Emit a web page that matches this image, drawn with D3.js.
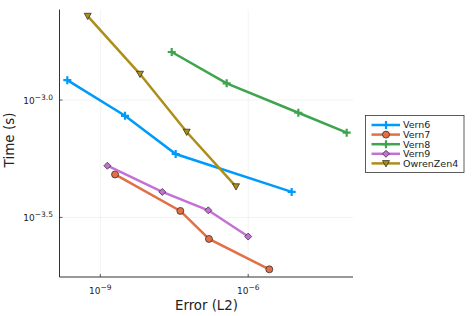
<!DOCTYPE html>
<html>
<head>
<meta charset="utf-8">
<script src="https://d3js.org/d3.v7.min.js"></script>
<style>
  body { margin: 0; background: #fff; }
  text { font-family: "DejaVu Sans", sans-serif; fill: #222; }
</style>
</head>
<body>
<script>
// series names and colours
var names = ['Vern6', 'Vern7', 'Vern8', 'Vern9', 'OwrenZen4'];
var colors = ['#009AFA', '#E26F46', '#3EA44E', '#C371D2', '#AC8E18'];
var shapes = ['cross', 'circle', 'cross', 'diamond', 'triangle'];

// error (L2) values per series
var errVern6 = [2.14e-10, 3.17e-9, 3.38e-8, 7.62e-6];
var errVern7 = [1.99e-9, 4.20e-8, 1.60e-7, 2.68e-6];
var errVern8 = [2.81e-8, 3.66e-7, 1.04e-5, 9.95e-5];
var errVern9 = [1.39e-9, 1.81e-8, 1.55e-7, 1.00e-6];
var errOwren = [5.55e-10, 6.38e-9, 5.66e-8, 5.66e-7];

// time (s) values per series
var timeVern6 = [1.216e-3, 8.57e-4, 5.89e-4, 4.06e-4];
var timeVern7 = [4.82e-4, 3.37e-4, 2.56e-4, 1.90e-4];
var timeVern8 = [1.603e-3, 1.178e-3, 8.83e-4, 7.26e-4];
var timeVern9 = [5.25e-4, 4.06e-4, 3.39e-4, 2.62e-4];
var timeOwren = [2.28e-3, 1.291e-3, 7.31e-4, 4.28e-4];

var xTicks = [1e-9, 1e-6];
var xTickExp = ['9', '6'];
var yTicks = [1.0e-3, 3.1623e-4];
var yTickExp = ['3.0', '3.5'];

var errs = [errVern6, errVern7, errVern8, errVern9, errOwren];
var times = [timeVern6, timeVern7, timeVern8, timeVern9, timeOwren];

var W = 474, H = 316;
var pL = 59.5, pR = 353, pT = 9.5, pB = 277;

var svg = d3.select('body').append('svg')
  .attr('width', W).attr('height', H);

var x = d3.scaleLog().domain([1.486e-10, 1.337e-4]).range([pL, pR]);
var y = d3.scaleLog().domain([1.762e-4, 2.432e-3]).range([pB, pT]);

// grid
svg.append('g').selectAll('line').data(xTicks).enter().append('line')
  .attr('x1', d => x(d)).attr('x2', d => x(d))
  .attr('y1', pT).attr('y2', pB)
  .attr('stroke', '#000').attr('stroke-opacity', 0.1).attr('stroke-width', 0.5);
svg.append('g').selectAll('line').data(yTicks).enter().append('line')
  .attr('x1', pL).attr('x2', pR)
  .attr('y1', d => y(d)).attr('y2', d => y(d))
  .attr('stroke', '#000').attr('stroke-opacity', 0.1).attr('stroke-width', 0.5);

// axes lines
svg.append('line').attr('x1', pL).attr('x2', pL).attr('y1', pT).attr('y2', pB)
  .attr('stroke', '#333').attr('stroke-width', 1);
svg.append('line').attr('x1', pL).attr('x2', pR).attr('y1', pB).attr('y2', pB)
  .attr('stroke', '#333').attr('stroke-width', 1);

// ticks
xTicks.forEach(function(t, i) {
  svg.append('line').attr('x1', x(t)).attr('x2', x(t)).attr('y1', pB).attr('y2', pB - 3)
    .attr('stroke', '#333').attr('stroke-width', 0.8);
  var tx = svg.append('text').attr('x', x(t)).attr('y', 294)
    .attr('text-anchor', 'middle').style('font-size', '9px');
  tx.append('tspan').text('10');
  tx.append('tspan').attr('dy', -4).style('font-size', '7.5px').text('\u2212' + xTickExp[i]);
});
yTicks.forEach(function(t, i) {
  svg.append('line').attr('x1', pL).attr('x2', pL + 3).attr('y1', y(t)).attr('y2', y(t))
    .attr('stroke', '#333').attr('stroke-width', 0.8);
  var tx = svg.append('text').attr('x', 53).attr('y', y(t) + 4)
    .attr('text-anchor', 'end').style('font-size', '9px');
  tx.append('tspan').text('10');
  tx.append('tspan').attr('dy', -4).style('font-size', '7.5px').text('\u2212' + yTickExp[i]);
});

// axis titles
svg.append('text').attr('x', 206.5).attr('y', 310)
  .attr('text-anchor', 'middle').style('font-size', '13.3px').text('Error (L2)');
svg.append('text').attr('transform', 'translate(14,140) rotate(-90)')
  .attr('text-anchor', 'middle').style('font-size', '13.5px').text('Time (s)');

function drawMarker(g, shape, color, cx, cy, s) {
  if (shape === 'circle') {
    g.append('circle').attr('cx', cx).attr('cy', cy).attr('r', s)
      .attr('fill', color).attr('stroke', '#222').attr('stroke-width', 0.7);
  } else if (shape === 'diamond') {
    g.append('path').attr('d', 'M' + cx + ',' + (cy - s) + 'L' + (cx + s) + ',' + cy + 'L' + cx + ',' + (cy + s) + 'L' + (cx - s) + ',' + cy + 'Z')
      .attr('fill', color).attr('stroke', '#222').attr('stroke-width', 0.7);
  } else if (shape === 'triangle') {
    g.append('path').attr('d', 'M' + (cx - s) + ',' + (cy - s * 0.8) + 'L' + (cx + s) + ',' + (cy - s * 0.8) + 'L' + cx + ',' + (cy + s) + 'Z')
      .attr('fill', color).attr('stroke', '#222').attr('stroke-width', 0.7);
  } else {
    g.append('path').attr('d', 'M' + (cx - s) + ',' + cy + 'H' + (cx + s) + 'M' + cx + ',' + (cy - s) + 'V' + (cy + s))
      .attr('stroke', color).attr('stroke-width', 2.2);
  }
}

var line = d3.line().x(d => x(d[0])).y(d => y(d[1]));

names.forEach(function(n, i) {
  var pts = errs[i].map((e, j) => [e, times[i][j]]);
  var g = svg.append('g');
  g.append('path').datum(pts).attr('d', line)
    .attr('fill', 'none').attr('stroke', colors[i]).attr('stroke-width', 2.5);
  pts.forEach(function(p) {
    drawMarker(g, shapes[i], colors[i], x(p[0]), y(p[1]), shapes[i] === 'cross' ? 4 : 3.5);
  });
});

// legend
var lg = svg.append('g');
lg.append('rect').attr('x', 365.5).attr('y', 115.5).attr('width', 98.5).attr('height', 57)
  .attr('fill', '#fff').attr('stroke', '#333').attr('stroke-width', 0.8);
names.forEach(function(n, i) {
  var ly = 125 + i * 9.6;
  lg.append('line').attr('x1', 371.5).attr('x2', 400).attr('y1', ly).attr('y2', ly)
    .attr('stroke', colors[i]).attr('stroke-width', 2.5);
  drawMarker(lg, shapes[i], colors[i], 386, ly, shapes[i] === 'cross' ? 4 : 3.5);
  lg.append('text').attr('x', 403).attr('y', ly + 3.3).style('font-size', '9.5px').text(n);
});
</script>
</body>
</html>
